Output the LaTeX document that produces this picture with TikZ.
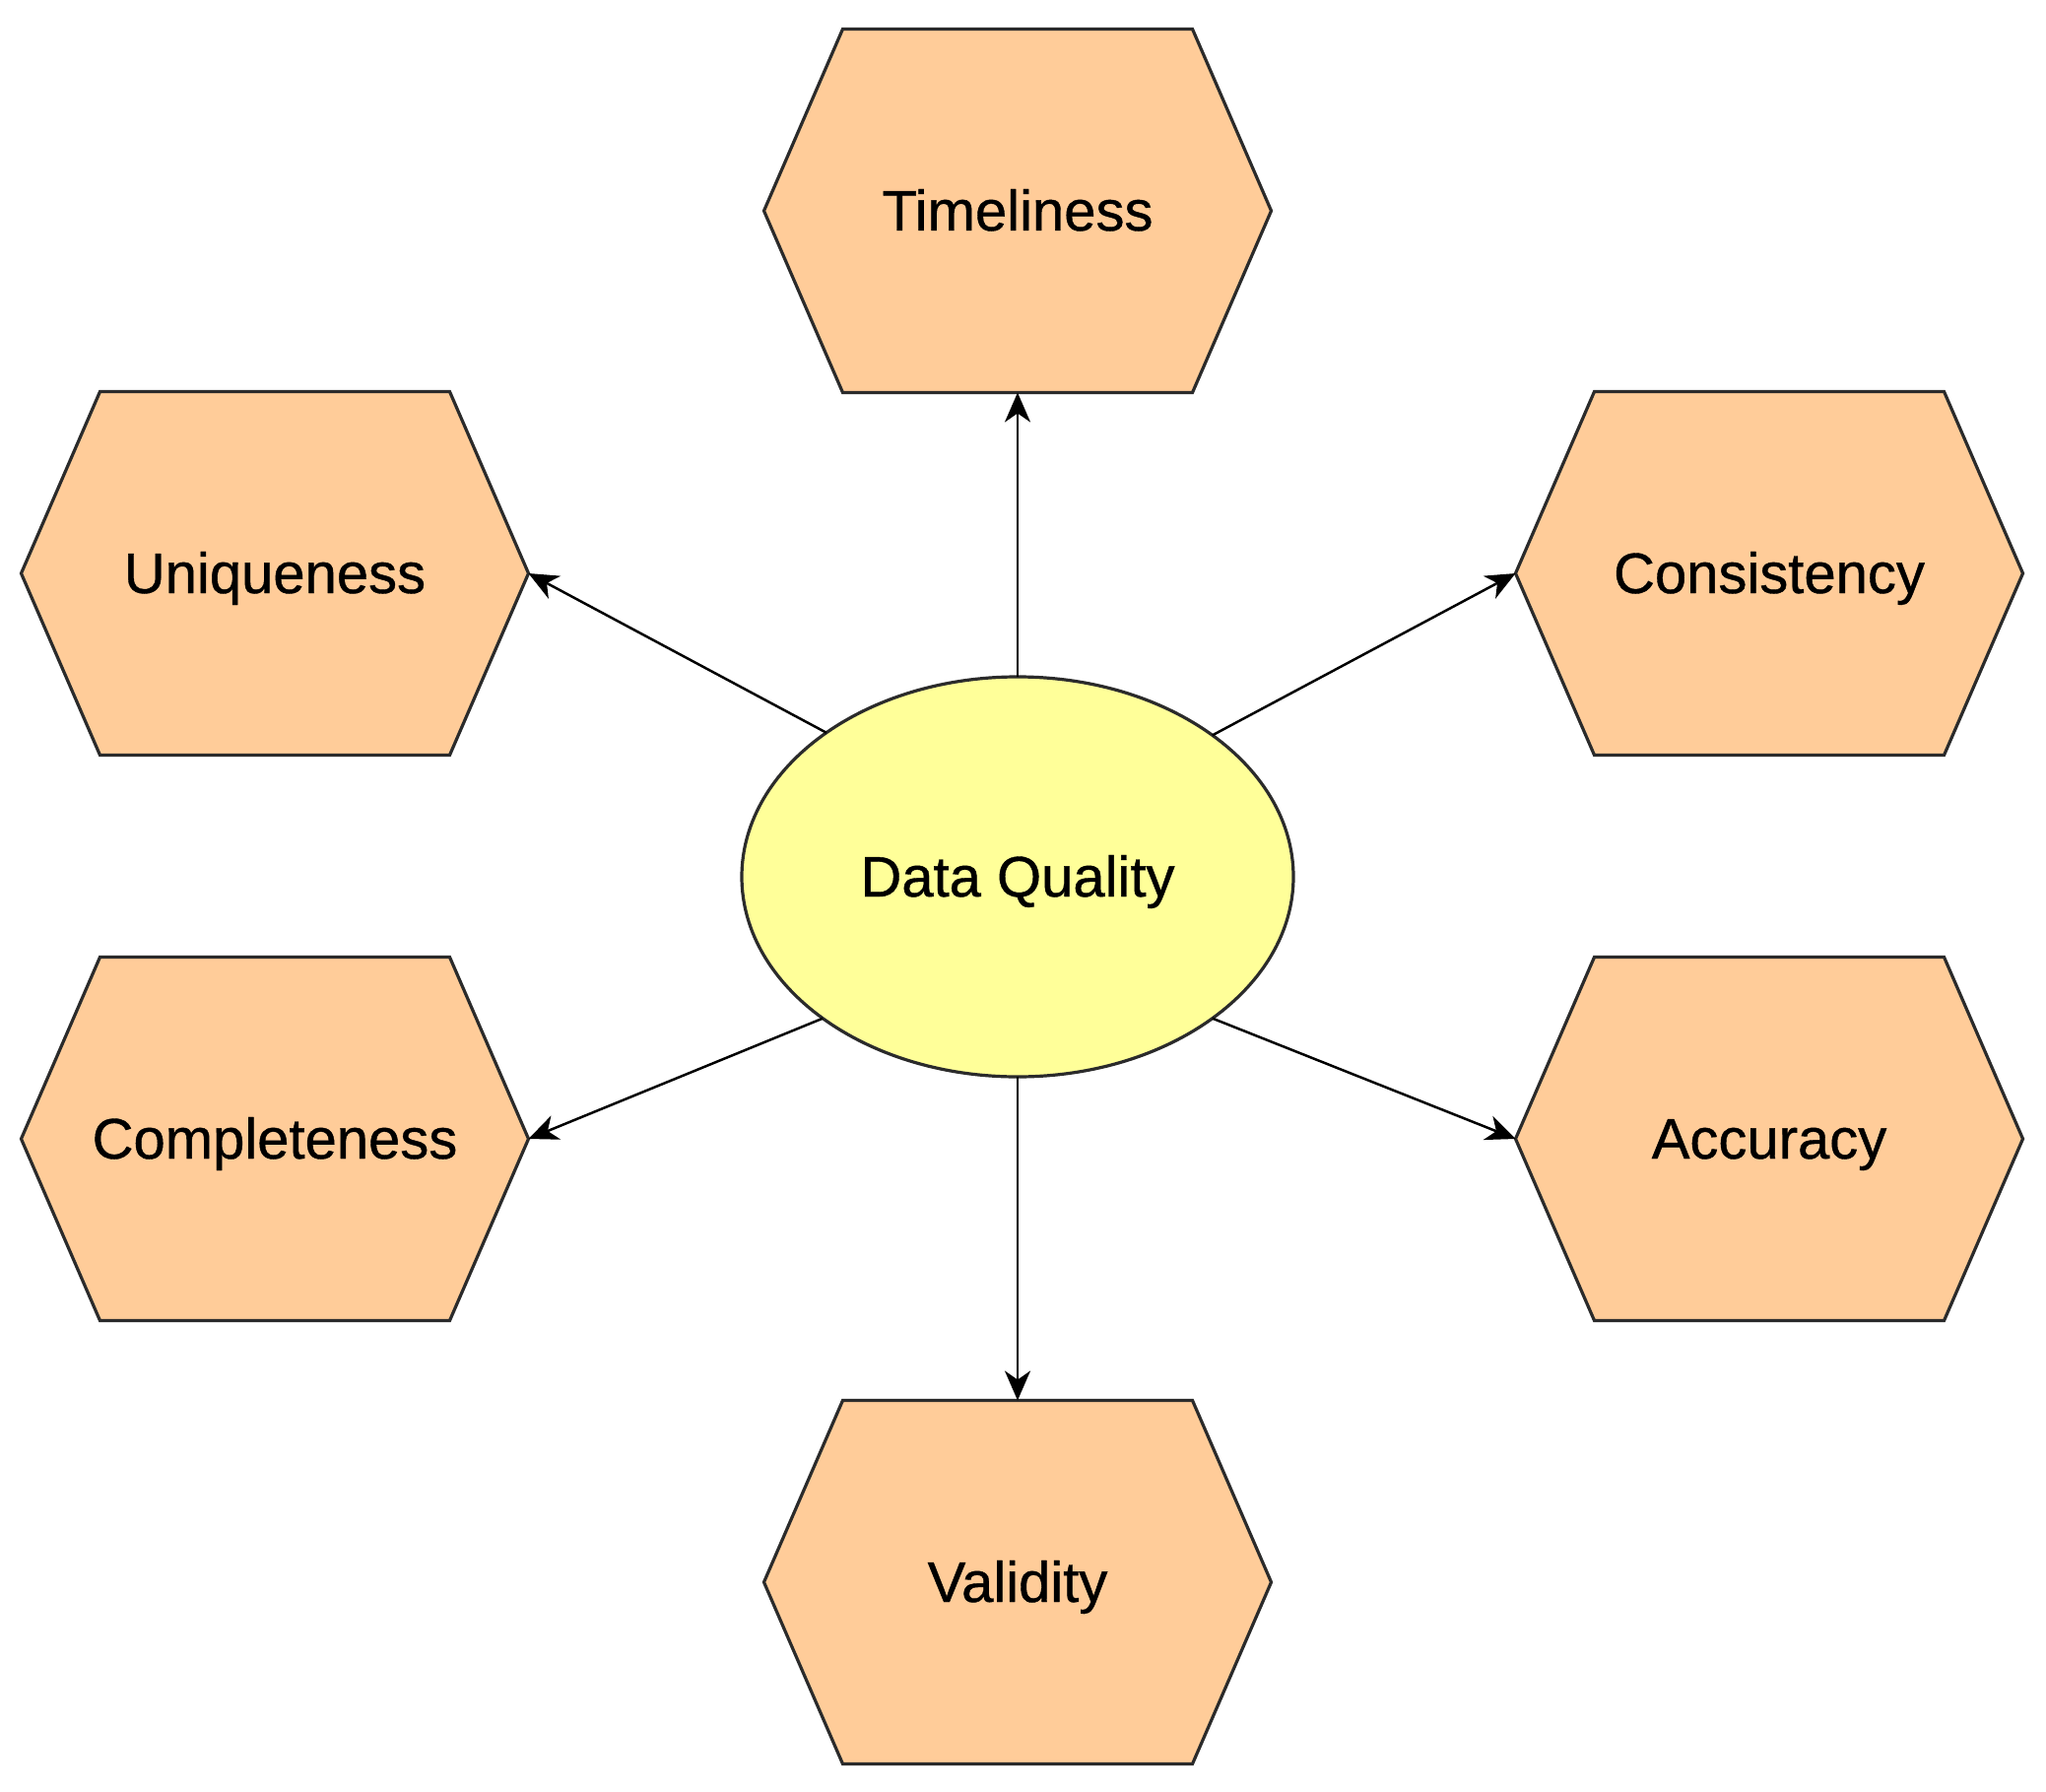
\documentclass[tikz,border=0pt]{standalone}
\usepackage{fontspec}
\setmainfont{Liberation Sans}
\newfontfamily\lblfont[FakeBold=0.7]{Liberation Sans}
\usetikzlibrary{shapes.geometric,arrows.meta,backgrounds}
\definecolor{hexfill}{HTML}{FFCC99}
\definecolor{ellfill}{HTML}{FFFF99}
\definecolor{edgegray}{HTML}{2B2B2B}
\tikzset{
  hexbox/.style={draw=none,minimum width=257.5pt,minimum height=184.5pt,inner sep=0pt,outer sep=0pt,
    text height=26pt,text depth=6pt,font=\lblfont\fontsize{29}{34}\selectfont},
  hexline/.style={draw=edgegray,line width=1.6pt,fill=hexfill,line join=miter},
  centre/.style={ellipse,draw=edgegray,line width=1.6pt,fill=ellfill,minimum width=280pt,minimum height=203pt,
    inner sep=0pt,outer sep=0pt,text height=26pt,text depth=6pt,font=\lblfont\fontsize{29}{34}\selectfont},
  conn/.style={draw=black,line width=1.25pt,-{Stealth[length=15pt,width=13pt,inset=4.5pt]}}
}
\begin{document}
\begin{tikzpicture}[x=0.5pt,y=-0.5pt]
\useasboundingbox (0,0) rectangle (2077,1819);
\node[hexbox] (tim) at (1033,214) {Timeliness};
\node[hexbox] (uni) at (279,582) {Uniqueness};
\node[hexbox] (con) at (1796,582) {Consistency};
\node[hexbox] (com) at (279,1156) {Completeness};
\node[hexbox] (acc) at (1796,1156) {Accuracy};
\node[hexbox] (val) at (1033,1606) {Validity};
\begin{scope}[on background layer]
\foreach \n in {tim,uni,con,com,acc,val}{
  \path[hexline] (\n.west) -- ([xshift=40pt]\n.north west) -- ([xshift=-40pt]\n.north east) -- (\n.east)
    -- ([xshift=-40pt]\n.south east) -- ([xshift=40pt]\n.south west) -- cycle;
}
\end{scope}
\node[centre] (dq) at (1033,890) {Data Quality};
\draw[conn] (dq.north) -- (tim.south);
\draw[conn] (dq.south) -- (val.north);
\draw[conn] (dq.143.6) -- (uni.east);
\draw[conn] (dq.36.4) -- (con.west);
\draw[conn] (dq.216.2) -- (com.east);
\draw[conn] (dq.-36.2) -- (acc.west);
\end{tikzpicture}
\end{document}
